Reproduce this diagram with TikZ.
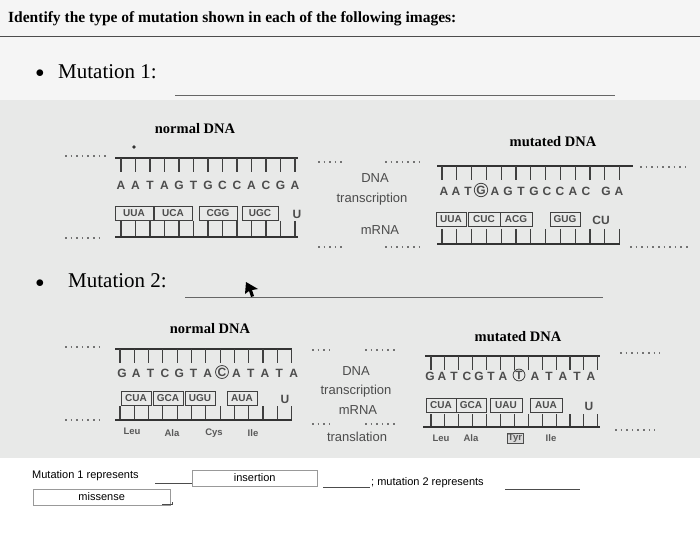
\documentclass[tikz,border=0pt]{standalone}
\usepackage{fontspec}
\setmainfont{Liberation Serif}
\newfontfamily\sfx{Liberation Sans}
\begin{document}
\begin{tikzpicture}[x=1pt,y=-1pt,
  strand/.style={line width=1.8pt,draw=black!80},
  tick/.style={line width=1.1pt,draw=black!75},
  dots/.style={dash pattern=on 1.6pt off 4pt,line width=1.6pt,draw=black!55},
  let/.style={font=\sfx\fontsize{12}{12}\selectfont\bfseries,text=black!70,inner sep=0pt},
  codon/.style={draw=black!75,line width=0.9pt,font=\sfx\fontsize{10}{10}\selectfont\bfseries,text=black!70,inner sep=1.2pt,minimum height=14pt},
  mid/.style={font=\sfx\fontsize{13}{13}\selectfont,text=black!70,inner sep=0pt},
  head/.style={font=\bfseries\fontsize{14.5}{15}\selectfont,inner sep=0pt},
  aa/.style={font=\sfx\fontsize{9.5}{10}\selectfont\bfseries,text=black!65,inner sep=1pt},
  form/.style={font=\sfx\fontsize{11}{11}\selectfont,inner sep=0pt,anchor=west},
  circ/.style={circle,draw=black!75,line width=0.8pt,inner sep=0.3pt}]
\useasboundingbox (0,0) rectangle (700,534);
\fill[black!4] (0,0) rectangle (700,534);
\fill[green!3!black!9] (0,100) rectangle (700,534);
\draw[black!70,line width=0.6pt] (0,36) -- (700,36);
\node[anchor=west,inner sep=0pt,font=\bfseries\fontsize{15.5}{16}\selectfont] (title) at (8,19) {Identify the type of mutation shown in each of the following images:};
\node[inner sep=0pt,font=\fontsize{17}{17}\selectfont] (b1) at (40,74) {$\bullet$};
\node[anchor=west,inner sep=0pt,font=\fontsize{21}{22}\selectfont] (m1) at (58,72) {Mutation 1:};
\draw[black!60] (175,95) -- (615,95);
\node[inner sep=0pt,font=\fontsize{17}{17}\selectfont] (b2) at (40,284) {$\bullet$};
\node[anchor=west,inner sep=0pt,font=\fontsize{21}{22}\selectfont] (m2) at (68,281) {Mutation 2:};
\draw[black!60] (185,297) -- (603,297);
\fill[black] (246,282) -- (258,289) -- (252,290) -- (254,296) -- (251,297) -- (249,291) -- (245,294) -- cycle;

% ---------- Mutation 1 ----------
\node[head] (n1) at (195,129) {normal DNA};
\node[head] (mu1) at (553,142) {mutated DNA};
\draw[dots] (65,156) -- (108,156);
\draw[strand] (115,158) -- (298,158);
\foreach \i in {0,...,12} \draw[tick] (121+14.5*\i,158) -- (121+14.5*\i,172);
\fill[black!80] (134,147) circle (1.8);
\foreach \c [count=\i from 0] in {A,A,T,A,G,T,G,C,C,A,C,G,A}
  \node[let] at (121+14.5*\i,185) {\c};
\foreach \t/\x/\w in {UUA/136/38, UCA/175/38, CGG/220/38, UGC/262/36}
  \node[codon,minimum width=\w pt] at (\x-2,213) {\t};
\node[let] at (297,214) {U};
\foreach \i in {0,...,12} \draw[tick] (121+14.5*\i,221) -- (121+14.5*\i,237);
\draw[strand] (115,237) -- (298,237);
\draw[dots] (65,238) -- (100,238);
\draw[dots] (318,162) -- (345,162);
\draw[dots] (385,162) -- (420,162);
\draw[dots] (318,247) -- (345,247);
\draw[dots] (385,247) -- (420,247);
\node[mid] (d1) at (375,178) {DNA};
\node[mid] (t1) at (372,199) {transcription};
\node[mid] (r1) at (380,230) {mRNA};
\draw[strand] (437,166) -- (633,166);
\foreach \i in {0,...,12} \draw[tick] (442+14.8*\i,166) -- (442+14.8*\i,180);
\draw[dots] (640,167) -- (690,167);
\foreach \c/\x in {A/444,A/456,T/468,A/495,G/508,T/521,G/534,C/547,C/560,A/573,C/586,G/606,A/619}
  \node[let] at (\x,191) {\c};
\node[let,circ] at (481,190) {G};
\foreach \t/\x/\w in {UUA/451/30, CUC/484/32, ACG/516/32, GUG/565/30}
  \node[codon,minimum width=\w pt] at (\x,219) {\t};
\node[let] at (601,220) {CU};
\foreach \i in {0,...,12} \draw[tick] (442+14.8*\i,229) -- (442+14.8*\i,244);
\draw[strand] (437,244) -- (620,244);
\draw[dots] (630,247) -- (690,247);

% ---------- Mutation 2 ----------
\node[head] (n2) at (210,329) {normal DNA};
\node[head] (mu2) at (518,337) {mutated DNA};
\draw[dots] (65,347) -- (100,347);
\draw[strand] (115,349) -- (292,349);
\foreach \i in {0,...,12} \draw[tick] (120+14.3*\i,349) -- (120+14.3*\i,363);
\foreach \c [count=\i from 0] in {G,A,T,C,G,T,A,{},A,T,A,T,A}
  \node[let] at (122+14.3*\i,373) {\c};
\node[let,circ] at (222,372) {C};
\foreach \t/\x/\w in {CUA/136/30, GCA/168/30, UGU/200/30, AUA/242/30}
  \node[codon,minimum width=\w pt] at (\x,398) {\t};
\node[let] at (285,399) {U};
\foreach \i in {0,...,12} \draw[tick] (120+14.3*\i,406) -- (120+14.3*\i,420);
\draw[strand] (115,420) -- (292,420);
\draw[dots] (65,420) -- (100,420);
\node[aa] at (132,431) {Leu};
\node[aa] at (172,433) {Ala};
\node[aa] at (214,433) {Cys};
\node[aa] at (253,433) {Ile};
\draw[dots] (312,350) -- (330,350);
\draw[dots] (365,350) -- (395,350);
\draw[dots] (312,424) -- (330,424);
\draw[dots] (365,424) -- (395,424);
\node[mid] (d2) at (356,371) {DNA};
\node[mid] (t2) at (356,391) {transcription};
\node[mid] (r2) at (358,410) {mRNA};
\node[mid] (l2) at (357,437) {translation};
\draw[strand] (425,356) -- (600,356);
\foreach \i in {0,...,12} \draw[tick] (431+13.9*\i,356) -- (431+13.9*\i,370);
\draw[dots] (620,353) -- (660,353);
\foreach \c/\x in {G/430,A/442,T/454,C/467,G/479,T/491,A/503,A/535,T/549,A/563,T/577,A/591}
  \node[let] at (\x,376) {\c};
\node[let,circ] at (519,375) {T};
\foreach \t/\x/\w in {CUA/441/30, GCA/471/30, UAU/506/32, AUA/546/32}
  \node[codon,minimum width=\w pt] at (\x,405) {\t};
\node[let] at (589,406) {U};
\foreach \i in {0,...,12} \draw[tick] (431+13.9*\i,414) -- (431+13.9*\i,427);
\draw[strand] (423,427) -- (600,427);
\draw[dots] (615,430) -- (655,430);
\node[aa] at (441,438) {Leu};
\node[aa] at (471,438) {Ala};
\node[aa,draw=black!70,fill=black!15] at (515,438) {Tyr};
\node[aa] at (551,438) {Ile};

% ---------- form ----------
\fill[white] (0,458) rectangle (700,534);
\node[form] (f1) at (32,476) {Mutation 1 represents};
\draw[black!70] (155,483) -- (192,483);
\node[form,draw=black!40,minimum width=125pt,minimum height=16pt,inner sep=2pt] (ins) at (192,478) {insertion};
\draw[black!70] (323,487) -- (370,487);
\node[form] (f2) at (371,483) {; mutation 2 represents};
\draw[black!70] (505,489) -- (580,489);
\node[form,draw=black!40,minimum width=137pt,minimum height=16pt,inner sep=2pt] (mis) at (33,497) {missense};
\draw[black!70] (162,504) -- (172,504) -- (172,502);
\end{tikzpicture}
\end{document}
